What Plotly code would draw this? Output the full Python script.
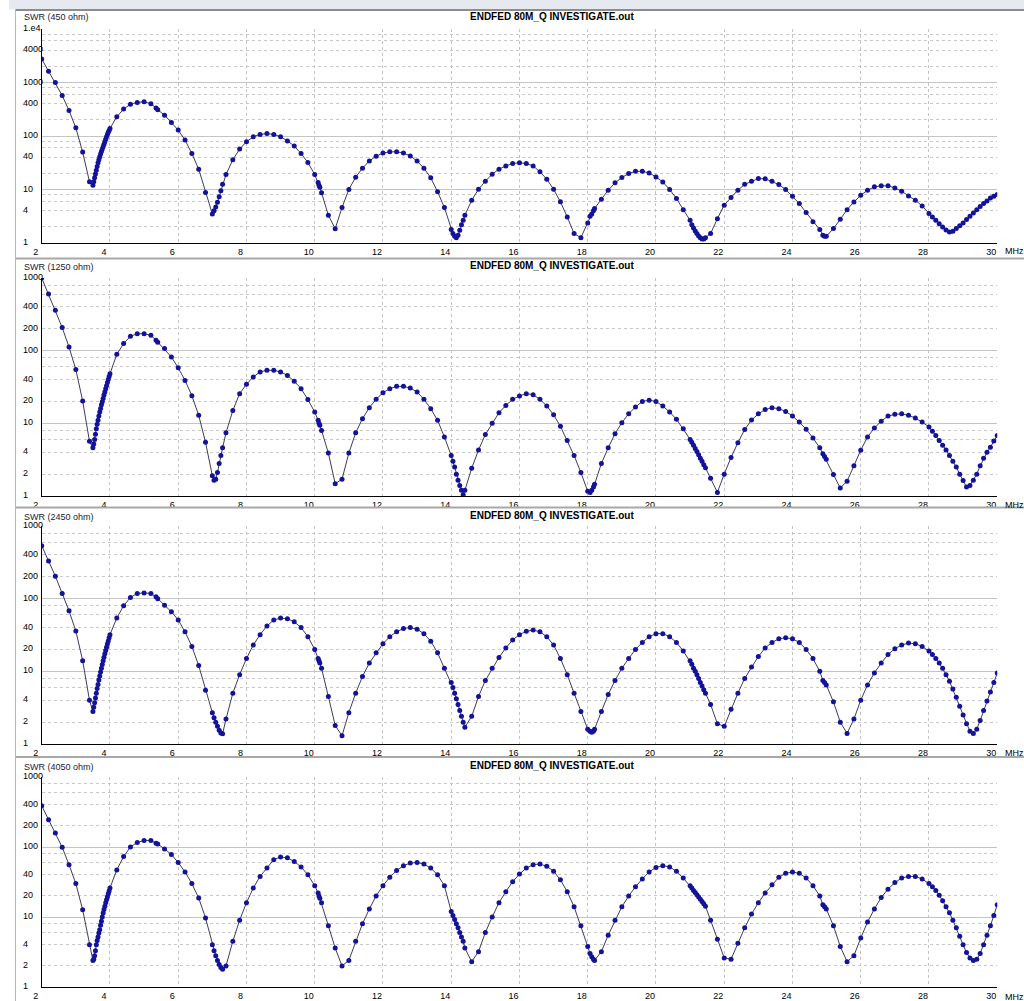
import math
import plotly.graph_objects as go

# ---------------- data ----------------
FREQ_MHZ = [
    2.0, 2.2, 2.4, 2.6, 2.8, 3.0, 3.2, 3.4,
    3.5, 3.525, 3.55, 3.575, 3.6, 3.625, 3.65, 3.675, 3.7, 3.725, 3.75, 3.775,
    3.8, 3.825, 3.85, 3.875, 3.9, 3.925, 3.95, 3.975, 4.0,
    4.2, 4.4, 4.6, 4.8, 5.0, 5.2, 5.35, 5.4, 5.6, 5.8, 6.0, 6.2, 6.4, 6.6, 6.8,
    7.0, 7.05, 7.1, 7.15, 7.2, 7.25, 7.3,
    7.4, 7.6, 7.8, 8.0, 8.2, 8.4, 8.6, 8.8, 9.0, 9.2, 9.4, 9.6, 9.8, 10.0,
    10.1, 10.125, 10.15,
    10.2, 10.4, 10.6, 10.8, 11.0, 11.2, 11.4, 11.6, 11.8, 12.0, 12.2, 12.4, 12.6,
    12.8, 13.0, 13.2, 13.4, 13.6, 13.8,
    14.0, 14.05, 14.1, 14.15, 14.2, 14.25, 14.3, 14.35,
    14.4, 14.6, 14.8, 15.0, 15.2, 15.4, 15.6, 15.8, 16.0, 16.2, 16.4, 16.6, 16.8,
    17.0, 17.2, 17.4, 17.6, 17.8, 18.0,
    18.068, 18.118, 18.168,
    18.2, 18.4, 18.6, 18.8, 19.0, 19.2, 19.4, 19.6, 19.8, 20.0, 20.2, 20.4, 20.6, 20.8,
    21.0, 21.05, 21.1, 21.15, 21.2, 21.25, 21.3, 21.35, 21.4, 21.45,
    21.6, 21.8, 22.0, 22.2, 22.4, 22.6, 22.8, 23.0, 23.2, 23.4, 23.6, 23.8, 24.0,
    24.2, 24.4, 24.6, 24.8,
    24.89, 24.94, 24.99,
    25.2, 25.4, 25.6, 25.8, 26.0, 26.2, 26.4, 26.6, 26.8, 27.0, 27.2, 27.4, 27.6, 27.8,
    28.0, 28.1, 28.2, 28.3, 28.4, 28.5, 28.6, 28.7, 28.8, 28.9, 29.0, 29.1, 29.2,
    29.3, 29.4, 29.5, 29.6, 29.7, 29.8, 29.9, 30.0,
]

SWR_450 = [
    2750, 1630, 1000, 570, 300, 142, 50, 14,
    12, 14, 16.5, 19.5, 23, 27, 31.5, 36, 41, 46, 51.5, 57, 63, 70, 78, 87, 97, 107, 117, 127, 138,
    229, 318, 394, 424, 437, 400, 335, 310, 245, 179, 129, 84, 47, 24, 8.8,
    3.5, 4.0, 4.7, 5.8, 7.3, 9.5, 12.5,
    19, 36, 57, 78, 97, 107, 111, 107, 97, 81, 65, 47, 32, 19,
    13.5, 12, 11,
    8.7, 3.3, 1.85, 4.6, 10, 17, 25, 34, 42, 48, 50.5, 50.5, 48, 42.5, 34, 25, 16.5, 9.1, 4.6,
    1.78, 1.5, 1.33, 1.26, 1.39, 1.73, 2.2, 2.66,
    3.3, 6.3, 10.1, 14.3, 19.3, 24, 27.6, 30.6, 31.5, 30.6, 27.6, 21.4, 15.6, 10.1, 5.9, 3.07, 1.5, 1.26, 2.37,
    3.15, 3.5, 4.0,
    4.4, 6.6, 9.7, 13.3, 16.7, 19.9, 21.9, 21.9, 20.4, 17.2, 13.8, 10, 6.8, 4.2,
    2.66, 2.2, 1.9, 1.68, 1.5, 1.35, 1.26, 1.19, 1.19, 1.26,
    1.5, 2.85, 5.1, 7.1, 9.7, 12.5, 14.2, 16, 15.8, 14.2, 12.4, 10, 7.5, 5.45, 3.7, 2.5, 1.78,
    1.4, 1.33, 1.33,
    1.86, 2.77, 4.2, 5.85, 7.8, 9.7, 11.2, 11.7, 11.7, 10.7, 9.3, 7.6, 6.3, 4.9,
    3.55, 3.05, 2.66, 2.3, 2.0, 1.75, 1.6, 1.65, 1.86, 2.1, 2.37, 2.75, 3.15, 3.65, 4.2, 4.8, 5.45, 6.1, 6.9, 7.5, 8.1,
]

SWR_1250 = [
    1000, 600, 359, 208, 112, 55, 20.3, 5.65,
    4.6, 5.2, 6.0, 7.1, 8.4, 9.7, 11, 12.6, 14.3, 16, 18, 19.8, 22, 24.5, 27, 30, 33, 36.5, 40, 44, 48,
    89, 125, 158, 171, 171, 163, 139, 131, 107, 82, 58, 39, 24, 12.9, 5.5,
    1.9, 1.65, 1.7, 2.1, 2.8, 3.6, 4.6,
    7.4, 15, 25.6, 34.5, 43.5, 51, 53.7, 53.7, 51, 45.7, 38, 30, 21.3, 14.3,
    11, 10, 9.4,
    8, 3.9, 1.48, 1.7, 3.9, 7.4, 11.6, 16.4, 21.4, 26.4, 30, 32.3, 32.3, 30.6, 27, 21.4, 15.9, 11, 6.5,
    3.6, 3.0, 2.5, 2.0, 1.65, 1.4, 1.2, 1.04,
    1.2, 2.4, 4.3, 7, 10, 14, 17.6, 21.4, 23.8, 25.6, 24.8, 21.4, 17.3, 13.1, 9.1, 5.8, 3.6, 2.1, 1.16,
    1.12, 1.2, 1.33,
    1.45, 2.8, 4.6, 7.2, 10.2, 13.5, 16.8, 20, 20.8, 20, 17.3, 14.3, 11.4, 8.4,
    6.0, 5.5, 5.0, 4.5, 4.1, 3.7, 3.3, 3.0, 2.7, 2.45,
    1.75, 1.12, 2.0, 3.4, 5.4, 8.2, 11.1, 13.5, 15.5, 16.4, 15.9, 14.6, 12.6, 10.4, 8.3, 6.3, 4.6,
    3.8, 3.5, 3.2,
    1.97, 1.29, 1.6, 2.6, 4.25, 6.5, 8.6, 10.7, 12.6, 13.3, 13.5, 12.9, 11.8, 10.4,
    8.9, 7.8, 6.8, 5.8, 5.0, 4.3, 3.6, 3.0, 2.5, 2.0, 1.64, 1.33, 1.4, 1.65, 2.0, 2.6, 3.3, 4.0, 4.7, 5.7, 6.8,
]

SWR_2450 = [
    535, 330, 204, 118, 68, 36, 14, 4.0,
    2.8, 3.2, 3.7, 4.3, 5.0, 5.8, 6.6, 7.6, 8.6, 9.8, 11, 12.4, 14, 15.6, 17.4, 19.4, 21.5, 23.8, 26.2, 29, 32,
    54, 80, 104, 118, 120, 118, 106, 100, 81, 66, 51, 35, 22, 12, 5.5,
    2.7, 2.3, 2.0, 1.75, 1.55, 1.42, 1.38,
    2.2, 5, 9, 15, 23, 32, 42, 51, 54, 53, 48, 40, 30, 20,
    15, 14, 13,
    11, 4.5, 1.8, 1.3, 2.7, 5, 8.5, 13, 18, 24, 30, 35, 39, 40, 38, 33, 26, 18, 11,
    7, 6, 5, 4.2, 3.5, 2.9, 2.4, 2.0,
    1.7, 2.4, 4.5, 7.5, 11, 15.5, 21, 27, 32, 35.5, 37, 35, 30, 23, 15, 9, 5, 2.8, 1.6,
    1.5, 1.45, 1.5,
    1.6, 2.8, 4.8, 7.5, 11, 15, 20, 25, 30, 33, 33, 30, 25, 19,
    14, 12.5, 11, 10, 9, 8, 7, 6.3, 5.6, 5,
    3.5, 1.9, 1.75, 3, 5, 8, 11.5, 16, 21, 25, 28, 29, 28, 25, 20, 15, 10,
    7.5, 7, 6.5,
    3.8, 2, 1.4, 2.2, 4, 6.5, 9.5, 13, 17, 20.5, 23, 24.5, 24, 22,
    19, 17, 15, 13, 11, 9, 7.3, 5.7, 4.4, 3.3, 2.5, 1.9, 1.5, 1.4, 1.6, 2.1, 2.9, 3.9, 5.2, 7, 9.5,
]

SWR_4050 = [
    388, 245, 158, 99, 56, 30, 12.7, 4.0,
    2.4, 2.5, 2.8, 3.3, 4.0, 4.6, 5.2, 5.9, 6.6, 7.6, 8.7, 10, 11.4, 12.8, 14.3, 16, 17.6, 19.5, 21.5, 23.5, 26,
    47, 73, 100, 116, 124, 124, 113, 110, 94, 78, 60, 44, 30, 18.7, 9.7,
    4.0, 3.3, 2.8, 2.4, 2.1, 1.9, 1.8,
    2.0, 4.5, 9, 16, 26, 38, 50, 66, 72, 70, 62, 52, 40, 28,
    22, 20, 18.5,
    16, 7.5, 3.6, 2.0, 2.4, 4.5, 8, 13, 20, 28, 37, 46, 54, 59, 60, 57, 50, 40, 28,
    12, 10.5, 9.2, 8, 7, 6, 5.2, 4.5,
    3.6, 2.3, 3.2, 6, 10, 16, 23, 32, 41, 50, 56, 57, 53, 45, 34, 23, 14, 7.5, 3.8,
    3.0, 2.7, 2.5,
    2.4, 3.2, 5.5, 9, 14, 20, 27, 35, 44, 51, 54, 52, 45, 36,
    28, 26, 24, 22.3, 20.8, 19.3, 18, 16.7, 15.4, 14.2,
    9, 4.8, 2.6, 2.5, 4.2, 7, 11, 16, 22, 29, 37, 42, 44, 42, 36, 28, 20,
    15, 14, 13,
    7.5, 3.8, 2.3, 2.8, 5, 8.5, 13, 19, 25, 31, 36, 38, 38, 35,
    30, 27, 24, 20.5, 17, 14, 11.5, 9, 7, 5.3, 4, 3.1, 2.6, 2.4, 2.5, 3.0, 4.0, 5.5, 7.5, 10.5, 15,
]

PANEL_LABELS = ["SWR (450 ohm)", "SWR (1250 ohm)", "SWR (2450 ohm)", "SWR (4050 ohm)"]
TITLE = "ENDFED 80M_Q INVESTIGATE.out"
X_TICKS = [2, 4, 6, 8, 10, 12, 14, 16, 18, 20, 22, 24, 26, 28, 30]
Y_TICKS_TOP = [1, 4, 10, 40, 100, 400, 1000, 4000, 10000]
Y_TICKTEXT_TOP = ["1", "4", "10", "40", "100", "400", "1000", "4000", "1.e4"]
Y_TICKS = [1, 2, 4, 10, 20, 40, 100, 200, 400, 1000]
Y_TICKTEXT = ["1", "2", "4", "10", "20", "40", "100", "200", "400", "1000"]

for s in (SWR_450, SWR_1250, SWR_2450, SWR_4050):
    assert len(s) == len(FREQ_MHZ), (len(s), len(FREQ_MHZ))

# ---------------- layout geometry (pixels) ----------------
W, H = 1024, 1001
PLOT_X0, PLOT_X1 = 33, 997
PANEL_PX = [(29, 243), (278, 496), (526, 744), (777, 987)]
Y_MAXLOG = [4, 3, 3, 3]
TITLE_Y = [16.7, 265.7, 515.0, 765.0]
LABEL_Y = [17.3, 267.3, 516.7, 766.7]
XLAB_Y = [251.5, 505.0, 752.7, 997.0]
SEP_Y = [258.5, 507.5, 757.0]

def px(x):
    return x / W

def py(y):
    return 1 - y / H

series = [SWR_450, SWR_1250, SWR_2450, SWR_4050]
fig = go.Figure()
annotations = []
shapes = []
FONT = "Liberation Sans, Arial, sans-serif"

minor_vals_top = [m * 10 ** d for d in range(0, 4) for m in (2, 4, 6, 8)]
minor_vals = [m * 10 ** d for d in range(0, 3) for m in (2, 4, 6, 8)]

for i, vals in enumerate(series):
    n = "" if i == 0 else str(i + 1)
    fig.add_trace(go.Scatter(
        x=FREQ_MHZ, y=vals, mode="lines+markers",
        xaxis="x" + n, yaxis="y" + n,
        line=dict(color="#3c3c5c", width=1),
        marker=dict(color="#12129a", size=5, line=dict(width=0)),
        showlegend=False, hoverinfo="x+y",
    ))
    top, bot = PANEL_PX[i]
    fig.update_layout(**{
        "xaxis" + n: dict(
            domain=[px(PLOT_X0), px(PLOT_X1)], range=[2, 30], anchor="y" + n,
            tickmode="array", tickvals=X_TICKS, ticktext=[str(t) for t in X_TICKS],
            showgrid=True, gridcolor="#c4c4c4", griddash="dot", gridwidth=1,
            zeroline=False, showline=True, linecolor="#000000", linewidth=1,
            ticks="", tickfont=dict(family=FONT, size=9, color="#000000"),
            ticklabelshift=-6, fixedrange=True,
        ),
        "yaxis" + n: dict(
            domain=[py(bot), py(top)], type="log", range=[0, Y_MAXLOG[i]],
            anchor="x" + n, tickmode="array",
            tickvals=[10 ** d for d in range(0, Y_MAXLOG[i] + 1)],
            showticklabels=False, showgrid=True, gridcolor="#c4c4c4", gridwidth=1,
            minor=dict(tickvals=minor_vals_top if i == 0 else minor_vals,
                       showgrid=True, gridcolor="#c8c8c8", griddash="dot", ticks=""),
            zeroline=False, showline=True, linecolor="#000000", linewidth=1,
            ticks="", fixedrange=True,
        ),
    })
    tv = Y_TICKS_TOP if i == 0 else Y_TICKS
    tt = Y_TICKTEXT_TOP if i == 0 else Y_TICKTEXT
    for v, t in zip(tv, tt):
        annotations.append(dict(
            x=px(12.5), xref="paper", xanchor="left",
            y=math.log10(v), yref="y" + n, yanchor="middle", yshift=1,
            text=t, showarrow=False, font=dict(family=FONT, size=9, color="#000000"),
        ))
    annotations.append(dict(
        x=px(548), xref="paper", xanchor="center", y=py(TITLE_Y[i]), yref="paper",
        yanchor="middle", text="<b>" + TITLE + "</b>", showarrow=False,
        font=dict(family=FONT, size=10, color="#000000"),
    ))
    annotations.append(dict(
        x=px(13.5), xref="paper", xanchor="left", y=py(LABEL_Y[i]), yref="paper",
        yanchor="middle", text=PANEL_LABELS[i], showarrow=False,
        font=dict(family=FONT, size=9, color="#1a1a3a"),
    ))
    annotations.append(dict(
        x=px(1003), xref="paper", xanchor="left", y=py(XLAB_Y[i]), yref="paper",
        yanchor="middle", text="MHz", showarrow=False,
        font=dict(family=FONT, size=9, color="#000000"),
    ))

# window chrome / panel frames
shapes.append(dict(type="rect", xref="paper", yref="paper", x0=0, x1=1, y0=py(9.5), y1=1,
                   fillcolor="#e6e9ef", line=dict(width=0), layer="below"))
shapes.append(dict(type="line", xref="paper", yref="paper", x0=px(6.5), x1=1, y0=py(10), y1=py(10),
                   line=dict(color="#8c8c8c", width=2)))
for y in SEP_Y:
    shapes.append(dict(type="line", xref="paper", yref="paper", x0=px(6.5), x1=1, y0=py(y), y1=py(y),
                       line=dict(color="#a8a8a8", width=2)))
shapes.append(dict(type="line", xref="paper", yref="paper", x0=px(6.5), x1=px(6.5), y0=0, y1=py(10),
                   line=dict(color="#b4b4b4", width=1)))

fig.update_layout(
    width=W, height=H, margin=dict(l=0, r=0, t=0, b=0),
    paper_bgcolor="#ffffff", plot_bgcolor="#ffffff",
    annotations=annotations, shapes=shapes, showlegend=False,
)

fig.write_html("out.html")
